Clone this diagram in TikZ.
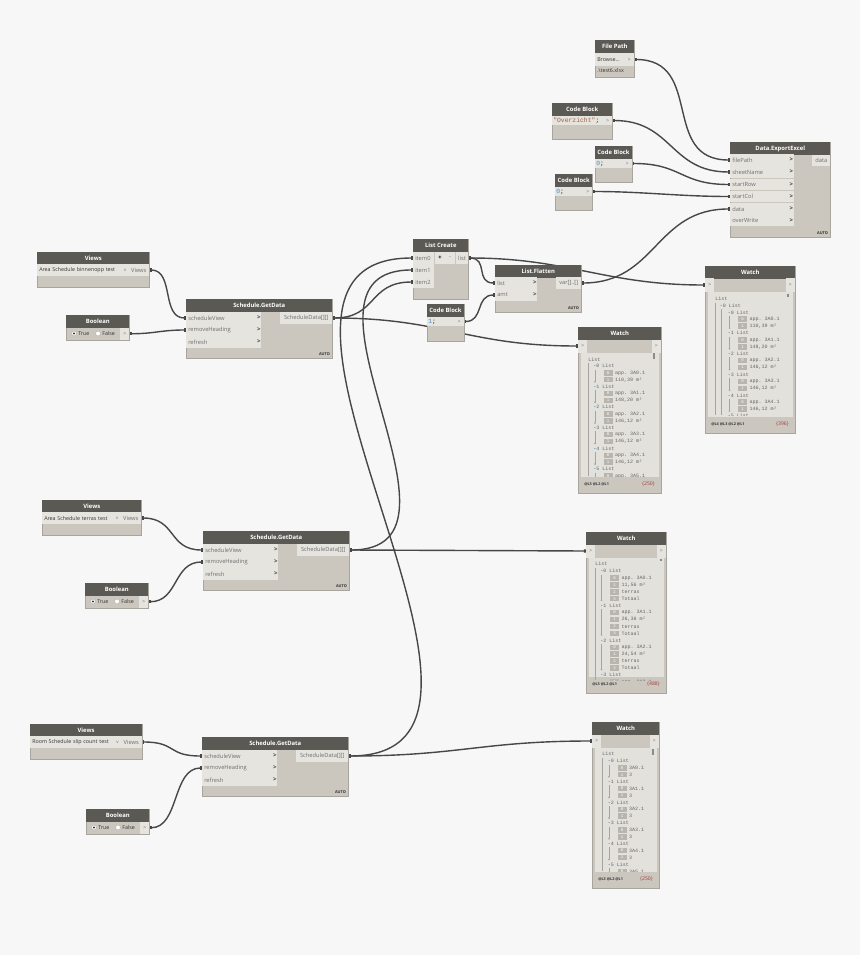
\documentclass[tikz,border=0pt]{standalone}
\usepackage{fontspec}
\setmainfont{Open Sans}
\setmonofont{Liberation Mono}
\usetikzlibrary{positioning,backgrounds,arrows.meta}
\definecolor{pagecol}{HTML}{F7F7F7}
\definecolor{bodycol}{HTML}{CBC7BF}
\definecolor{edgecol}{HTML}{A8A59E}
\definecolor{titlecol}{HTML}{5B5954}
\definecolor{rowcol}{HTML}{E6E4DF}
\definecolor{watchcol}{HTML}{E3E1DC}
\definecolor{porttextcol}{HTML}{6E6E6E}
\definecolor{wirecol}{HTML}{474747}
\definecolor{chipcol}{HTML}{B8B5AF}
\definecolor{minuscol}{HTML}{4A90C8}
\definecolor{treecol}{HTML}{A5A49F}
\definecolor{countcol}{HTML}{A8383A}
\definecolor{stringcol}{HTML}{A0603C}
\tikzset{
  blockbody/.style={anchor=north west,fill=bodycol,draw=edgecol,line width=.5pt,inner sep=0pt},
  blocktitle/.style={anchor=north west,fill=titlecol,text=white,inner sep=0pt,minimum height=9.4pt,
    font=\bfseries\fontsize{4.4}{5}\selectfont},
  portrow/.style={anchor=west,fill=rowcol,text=porttextcol,inner xsep=1.5pt,inner ysep=0pt,
    minimum height=8.3pt,align=left,font=\fontsize{4.3}{5}\selectfont},
  outrow/.style={anchor=west,fill=rowcol,text=porttextcol,inner sep=0pt,
    minimum height=8.3pt,font=\fontsize{4.3}{5}\selectfont},
  chevron/.style={anchor=east,inner sep=.4pt,text=black!75,font=\bfseries\fontsize{4.6}{5}\selectfont},
  portbtn/.style={anchor=west,fill=rowcol,text=porttextcol,inner sep=0pt,font=\fontsize{3.8}{4}\selectfont},
  autotxt/.style={anchor=east,inner sep=0pt,text=black!80,font=\bfseries\fontsize{2.9}{3}\selectfont},
  plaintxt/.style={anchor=west,inner sep=0pt,text=black!80,font=\fontsize{4}{5}\selectfont},
  radio/.style={circle,fill=white,draw=edgecol,line width=.2pt,inner sep=0pt,minimum size=3.6pt},
  radiodot/.style={circle,fill=black!80,inner sep=0pt,minimum size=1.8pt},
  codetxt/.style={anchor=west,inner sep=0pt,text=black!80,font=\ttfamily\fontsize{4.8}{5}\selectfont},
  watchbox/.style={anchor=north west,fill=watchcol,inner sep=0pt},
  listtext/.style={anchor=west,inner sep=0pt,text=black!60,font=\ttfamily\fontsize{3.75}{4}\selectfont},
  leafchip/.style={anchor=west,fill=chipcol,text=white,inner sep=0pt,minimum width=6.6pt,minimum height=4.1pt,
    font=\ttfamily\fontsize{3}{3}\selectfont},
  treeline/.style={draw=treecol,line width=.35pt},
  scrollthumb/.style={anchor=north west,fill=black!45,inner sep=0pt},
  countxt/.style={anchor=east,inner sep=0pt,text=countcol,font=\fontsize{3.8}{4}\selectfont},
  levelstxt/.style={anchor=west,inner sep=0pt,text=black!80,font=\bfseries\fontsize{2.8}{3}\selectfont},
  wire/.style={draw=wirecol,line width=1.05pt,
    {Rectangle[length=1.6pt,width=2.6pt]}-{Rectangle[length=1.6pt,width=2.6pt]}},
}
% block body with its title bar: name, x, y, w, h, title
\newcommand{\dynblock}[6]{
  \node[blockbody,minimum width=#4*.75pt,minimum height=#5*.75pt] (#1) at (#2,#3) {};
  \node[blocktitle,minimum width=#4*.75pt] (#1-t) at (#2,#3) {#6};
}
% row with no chevron: name, x, ymid, w, text
\newcommand{\dynport}[5]{
  \node[portrow,text width=(#4-4)*.75pt] (#1) at (#2,#3) {#5};
}
\newcommand{\dyninput}[5]{
  \dynport{#1}{#2}{#3}{#4}{#5}
  \node[chevron] (#1-c) at (#1.east) {>};
}
\newcommand{\dynoutput}[5]{
  \node[outrow,minimum width=#4*.75pt] (#1) at (#2,#3) {#5};
}
\newcommand{\dynauto}[1]{
  \node[autotxt] (#1-auto) at ([shift={(-2.5,-5)}]#1.south east) {AUTO};
}
% schedule node: name, x, y
\newcommand{\dynschedule}[3]{
  \dynblock{#1}{#2}{#3}{146}{59}{Schedule.GetData}
  \dyninput{#1-view}{#2}{#3+19}{75}{scheduleView}
  \dyninput{#1-head}{#2}{#3+31}{75}{removeHeading}
  \dyninput{#1-ref}{#2}{#3+43}{75}{refresh}
  \dynoutput{#1-out}{#2+94}{#3+19}{52}{ScheduleData[][]}
  \dynauto{#1}
}
% views dropdown: name, x, y, w, text
\newcommand{\dynviews}[5]{
  \dynblock{#1}{#2}{#3}{#4}{35}{Views}
  \node[portrow,text=black!80,font=\fontsize{4}{5}\selectfont,text width=(#4-25)*.75pt] (#1-list) at (#2,#3+18) {#5};
  \node[chevron,text=porttextcol,font=\fontsize{3.4}{4}\selectfont] (#1-v) at (#2+#4-22,#3+18) {v};
  \node[outrow,minimum width=21*.75pt] (#1-out) at (#2+#4-21,#3+18) {Views};
}
% boolean toggle: name, x, y
\newcommand{\dynbool}[3]{
  \dynblock{#1}{#2}{#3}{63}{25}{Boolean}
  \node[radio] (#1-r1) at (#2+8,#3+18.5) {};
  \node[radiodot] (#1-d1) at (#1-r1.center) {};
  \node[plaintxt] (#1-true) at (#2+12,#3+18.5) {True};
  \node[radio] (#1-r2) at (#2+32,#3+18.5) {};
  \node[plaintxt] (#1-false) at (#2+36,#3+18.5) {False};
  \node[portbtn,minimum width=9*.75pt,minimum height=12.5*.75pt] (#1-out) at (#2+54,#3+18.75) {>};
}
% code block: name, x, y, w, code
\newcommand{\dyncode}[5]{
  \dynblock{#1}{#2}{#3}{#4}{36.5}{Code Block}
  \node[portrow,minimum width=(#4-9)*.75pt,minimum height=7.2pt] (#1-row) at (#2,#3+17.5) {};
  \node[codetxt] (#1-txt) at (#2+1,#3+17.5) {#5};
  \node[portbtn,minimum width=9*.75pt,minimum height=7.2pt] (#1-out) at (#2+#4-9,#3+17.5) {>};
}
% watch frame: name, x, y, w, h, levels, count
\newcommand{\dynwatch}[7]{
  \dynblock{#1}{#2}{#3}{#4}{#5}{Watch}
  \node[portbtn,minimum width=9*.75pt,minimum height=13*.75pt] (#1-in) at (#2,#3+19) {>};
  \node[portbtn,anchor=east,minimum width=9*.75pt,minimum height=13*.75pt] (#1-out) at (#2+#4,#3+19) {>};
  \node[watchbox,minimum width=(#4-5)*.75pt,minimum height=(#5-42)*.75pt] (#1-box) at (#2+2.5,#3+26) {};
  \node[levelstxt] (#1-lv) at (#2+6,#3+#5-8.5) {#6};
  \node[countxt] (#1-cnt) at (#2+#4-6,#3+#5-8.5) {\{#7\}};
}
\newcommand{\listrow}[4]{
  \node[listtext] (#1) at (#2,#3) {\textcolor{minuscol}{\textbf{-}}#4 List};
}
\newcommand{\leafrow}[5]{
  \node[leafchip] (#1) at (#2,#3) {#4};
  \node[listtext,right=1.5pt of #1] (#1-t) {#5};
}
\begin{document}
\begin{tikzpicture}[x=.75pt,y=-.75pt]
  \useasboundingbox (0,0) rectangle (860,955);
  \begin{scope}[on background layer]
    \fill[pagecol] (0,0) rectangle (860,955);
  \end{scope}

  % excel export, top right
  \dynblock{filepath}{595}{40}{39}{37}{File Path}
  \node[portrow,text=black!80,text width=25*.75pt,minimum height=13*.75pt,font=\fontsize{4}{5}\selectfont] (filepath-row) at (595,59.5) {Browse...};
  \node[portbtn,minimum width=10*.75pt,minimum height=13*.75pt] (filepath-out) at (624,59.5) {>};
  \node[plaintxt] (filepath-txt) at (597,71) {.\textbackslash test6.xlsx};

  \dyncode{sheetcode}{552}{103}{60}{\textcolor{stringcol}{"Overzicht"};}
  \dyncode{rowcode}{595}{146}{36.5}{\textcolor{minuscol}{0};}
  \dyncode{colcode}{555}{174}{37}{\textcolor{minuscol}{0};}

  \dynblock{excel}{730}{142}{100}{95}{Data.ExportExcel}
  \dyninput{excel-path}{730}{160}{63.5}{filePath}
  \dyninput{excel-sheet}{730}{172}{63.5}{sheetName}
  \dyninput{excel-row}{730}{184.5}{63.5}{startRow}
  \dyninput{excel-col}{730}{196.5}{63.5}{startCol}
  \dyninput{excel-data}{730}{209}{63.5}{data}
  \dyninput{excel-over}{730}{220.5}{63.5}{overWrite}
  \dynoutput{excel-out}{812}{160.5}{18}{data}
  \dynauto{excel}

  % list nodes
  \dynblock{create}{413}{239}{55}{60}{List Create}
  \dynport{create-a}{413}{258}{21}{item0}
  \dynport{create-b}{413}{270}{21}{item1}
  \dynport{create-c}{413}{282}{21}{item2}
  \dynoutput{create-plus}{435}{258}{9.5}{\textcolor{black}{\textbf{+}}}
  \dynoutput{create-minus}{445}{258}{9.5}{-}
  \dynoutput{create-out}{455.5}{258}{12.5}{list}

  \dynblock{flatten}{495}{265}{86}{47}{List.Flatten}
  \dyninput{flatten-list}{495}{283}{42}{list}
  \dyninput{flatten-amt}{495}{295}{42}{amt}
  \dynoutput{flatten-out}{556}{283}{25}{var[]..[]}
  \dynauto{flatten}

  \dyncode{amtcode}{427}{304}{36.5}{\textcolor{minuscol}{1};}

  % schedules with their inputs
  \dynviews{viewsa}{37}{252}{112}{Area Schedule binnenopp test}
  \dynbool{boola}{66}{315}
  \dynschedule{scheda}{186}{299}

  \dynviews{viewsb}{42}{500}{99}{Area Schedule terras test}
  \dynbool{boolb}{85}{583}
  \dynschedule{schedb}{203}{531}

  \dynviews{viewsc}{30}{724}{111.5}{Room Schedule slip count test}
  \dynbool{boolc}{86}{809}
  \dynschedule{schedc}{202}{737}

  % watch of the first schedule
  \dynwatch{watcha}{578}{327}{83}{166}{@L3 @L2 @L1}{250}
  \node[scrollthumb,minimum width=2.2*.75pt,minimum height=6*.75pt] (watcha-sb) at (652.7,353) {};
  \begin{scope}
    \clip (580.5,353) rectangle (658.5,476);
    \node[listtext] (watcha-root) at (588,359.5) {List};
    \draw[treeline] (588.5,363) -- (588.5,476);
    \foreach \i/\a/\b in {0/3A0.1/{110,39},1/3A1.1/{148,20},2/3A2.1/{146,12},3/3A3.1/{146,12},4/3A4.1/{146,12},5/3A5.1/{146,12}} {
      \pgfmathsetmacro\gy{366+20.6*\i}
      \listrow{watcha-g\i}{593}{\gy}{\i}
      \draw[treeline,-{Circle[length=1.2pt]}] (595,\gy+3.5) -- (595,\gy+16.5);
      \leafrow{watcha-x\i}{603.5}{\gy+6.87}{0}{app. \a}
      \leafrow{watcha-y\i}{603.5}{\gy+13.74}{1}{\b{} m²}
    }
  \end{scope}

  % watch of the flattened list
  \dynwatch{watchb}{705}{266}{90}{167}{@L4 @L3 @L2 @L1}{396}
  \node[scrollthumb,minimum width=2*.75pt,minimum height=2.5*.75pt] (watchb-sb) at (786.5,294) {};
  \begin{scope}
    \clip (707.5,292) rectangle (792.5,415);
    \node[listtext] (watchb-root) at (715,299) {List};
    \draw[treeline] (715.5,303) -- (715.5,415);
    \listrow{watchb-top}{719.5}{305.5}{0}
    \draw[treeline] (721.5,309) -- (721.5,415);
    \foreach \i/\a/\b in {0/3A0.1/{110,39},1/3A1.1/{148,20},2/3A2.1/{146,12},3/3A3.1/{146,12},4/3A4.1/{146,12}} {
      \pgfmathsetmacro\gy{312.3+20.75*\i}
      \listrow{watchb-g\i}{727.5}{\gy}{\i}
      \draw[treeline,-{Circle[length=1.2pt]}] (729.5,\gy+3.5) -- (729.5,\gy+16.5);
      \leafrow{watchb-x\i}{738}{\gy+6.87}{0}{app. \a}
      \leafrow{watchb-y\i}{738}{\gy+13.74}{1}{\b{} m²}
    }
    \listrow{watchb-g5}{727.5}{416}{5}
  \end{scope}

  % watch of the terrace schedule
  \dynwatch{watchc}{586}{532}{80}{161}{@L3 @L2 @L1}{488}
  \node[scrollthumb,minimum width=2*.75pt,minimum height=2.5*.75pt] (watchc-sb) at (659.5,558.5) {};
  \begin{scope}
    \clip (588.5,558) rectangle (663.5,680);
    \node[listtext] (watchc-root) at (595,564) {List};
    \draw[treeline] (595.5,568) -- (595.5,680);
    \foreach \i/\a/\b in {0/3A0.1/{11,56},1/3A1.1/{26,36},2/3A2.1/{24,54}} {
      \pgfmathsetmacro\gy{571+34.65*\i}
      \listrow{watchc-g\i}{600}{\gy}{\i}
      \draw[treeline,-{Circle[length=1.2pt]}] (601.5,\gy+3.5) -- (601.5,\gy+30);
      \leafrow{watchc-x\i}{610}{\gy+6.93}{0}{app. \a}
      \leafrow{watchc-y\i}{610}{\gy+13.86}{1}{\b{} m²}
      \leafrow{watchc-z\i}{610}{\gy+20.79}{2}{terras}
      \leafrow{watchc-w\i}{610}{\gy+27.72}{3}{Totaal}
    }
    \listrow{watchc-g3}{600}{675}{3}
    \leafrow{watchc-x3}{610}{682}{0}{app. 3A3.1}
  \end{scope}

  % watch of the room schedule
  \dynwatch{watchd}{592}{722}{67}{166}{@L3 @L2 @L1}{250}
  \node[scrollthumb,minimum width=2.2*.75pt,minimum height=5.5*.75pt] (watchd-sb) at (652,749) {};
  \begin{scope}
    \clip (594.5,748) rectangle (656.5,871);
    \node[listtext] (watchd-root) at (602,754) {List};
    \draw[treeline] (602.5,758) -- (602.5,871);
    \foreach \i/\a in {0/3A0.1,1/3A1.1,2/3A2.1,3/3A3.1,4/3A4.1,5/3A5.1} {
      \pgfmathsetmacro\gy{761+20.7*\i}
      \listrow{watchd-g\i}{607.5}{\gy}{\i}
      \draw[treeline,-{Circle[length=1.2pt]}] (609,\gy+3.5) -- (609,\gy+16.5);
      \leafrow{watchd-x\i}{617.5}{\gy+6.87}{0}{\a}
      \leafrow{watchd-y\i}{617.5}{\gy+13.74}{1}{3}
    }
  \end{scope}

  % wires go under the blocks
  \begin{scope}[on background layer]
    \draw[wire] (filepath-out.east) .. controls +(70,0) and +(-70,0) .. (excel-path.west);
    \draw[wire] (sheetcode-out.east) .. controls +(60,0) and +(-60,0) .. (excel-sheet.west);
    \draw[wire] (rowcode-out.east) .. controls +(50,0) and +(-50,0) .. (excel-row.west);
    \draw[wire] (colcode-out.east) .. controls +(50,0) and +(-50,0) .. (excel-col.west);
    \draw[wire] (flatten-out.east) .. controls +(75,0) and +(-75,0) .. (excel-data.west);
    \draw[wire] (create-out.east) .. controls +(20,0) and +(-20,0) .. (flatten-list.west);
    \draw[wire] (create-out.east) .. controls +(100,0) and +(-100,0) .. (watchb-in.west);
    \draw[wire] (amtcode-out.east) .. controls +(20,0) and +(-20,0) .. (flatten-amt.west);
    \draw[wire] (viewsa-out.east) .. controls +(25,0) and +(-25,0) .. (scheda-view.west);
    \draw[wire] (boola-out.east) .. controls +(25,0) and +(-25,0) .. (scheda-head.west);
    \draw[wire] (viewsb-out.east) .. controls +(35,0) and +(-35,0) .. (schedb-view.west);
    \draw[wire] (boolb-out.east) .. controls +(30,0) and +(-30,0) .. (schedb-head.west);
    \draw[wire] (viewsc-out.east) .. controls +(35,0) and +(-35,0) .. (schedc-view.west);
    \draw[wire] (boolc-out.east) .. controls +(30,0) and +(-30,0) .. (schedc-head.west);
    \draw[wire] (scheda-out.east) .. controls +(45,0) and +(-45,0) .. (create-c.west);
    \draw[wire] (scheda-out.east) .. controls +(110,0) and +(-110,0) .. (watcha-in.west);
    \draw[wire] (schedb-out.east) .. controls +(140,0) and +(-140,0) .. (create-b.west);
    \draw[wire] (schedb-out.east) -- (watchc-in.west);
    \draw[wire] (schedc-out.east) .. controls +(220,0) and +(-220,0) .. (create-a.west);
    \draw[wire] (schedc-out.east) .. controls +(110,0) and +(-110,0) .. (watchd-in.west);
  \end{scope}
\end{tikzpicture}
\end{document}
